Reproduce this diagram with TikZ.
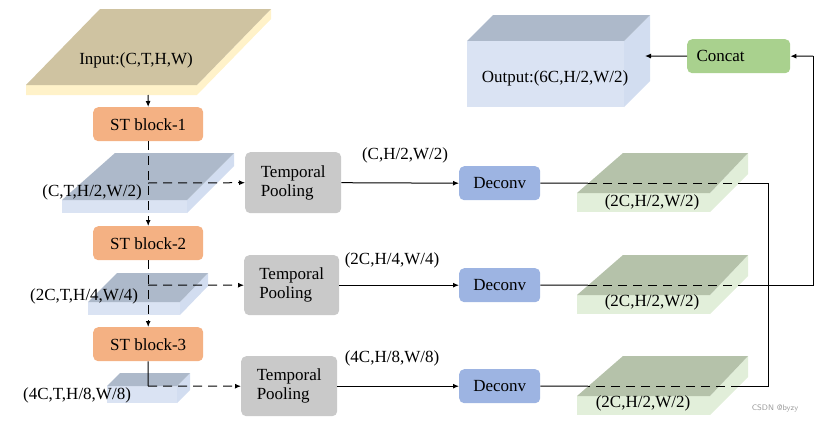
\documentclass[tikz,border=0pt]{standalone}
\usepackage{fontspec}
\setmainfont{Liberation Serif}
\usetikzlibrary{arrows.meta}
\definecolor{stor}{HTML}{F4B183}
\definecolor{tpg}{HTML}{C9C9C9}
\definecolor{dcb}{HTML}{9DB4E2}
\definecolor{ccg}{HTML}{A9D18E}
\definecolor{btop}{HTML}{ADB9CA}
\definecolor{bfront}{HTML}{DAE3F3}
\definecolor{bside}{HTML}{D2DDF0}
\definecolor{gtop}{HTML}{B5C2AA}
\definecolor{gfront}{HTML}{E2EFDA}
\definecolor{itop}{HTML}{CFC3A1}
\definecolor{iside}{HTML}{FFF2C9}
\begin{document}
\begin{tikzpicture}[x=1pt,y=-1pt,
  txt/.style={font=\fontsize{17}{19}\selectfont},
  box/.style={rounded corners=5pt,draw=none,txt,inner sep=0pt,anchor=north west},
  ln/.style={line width=1pt,black},
  arr/.style={ln,-{Latex[length=6pt,width=5pt]}},
  dsh/.style={ln,dash pattern=on 9pt off 6pt}]
\useasboundingbox (0,0) rectangle (819,423);
% input slab
\fill[iside] (26,85)--(197,85)--(271,9)--(271,19)--(197,95)--(26,95)--cycle;
\fill[itop] (100,9)--(271,9)--(197,85)--(26,85)--cycle;
\node[txt] (inp) at (136,60) {Input:(C,T,H,W)};
% ST blocks
\node[box,fill=stor,minimum width=110pt,minimum height=34pt] (st1) at (93,107) {};
\node[txt] at (st1.center) {ST block-1};
\node[box,fill=stor,minimum width=110pt,minimum height=34pt] (st2) at (93,226) {};
\node[txt] at (st2.center) {ST block-2};
\node[box,fill=stor,minimum width=110pt,minimum height=34pt] (st3) at (93,327) {};
\node[txt] at (st3.center) {ST block-3};
% blue slabs
\fill[bfront] (62,200) rectangle (187,213);
\fill[bside] (187,200)--(234,153)--(234,166)--(187,213)--cycle;
\fill[btop] (115,153)--(234,153)--(187,200)--(62,200)--cycle;
\fill[bfront] (88,302) rectangle (180,315);
\fill[bside] (180,302)--(208,273)--(208,286)--(180,315)--cycle;
\fill[btop] (117,273)--(208,273)--(180,302)--(88,302)--cycle;
\fill[bfront] (107,386) rectangle (177,403);
\fill[bside] (177,386)--(190,373)--(190,390)--(177,403)--cycle;
\fill[btop] (120,373)--(190,373)--(177,386)--(107,386)--cycle;
\node[txt] (l1) at (92,192) {(C,T,H/2,W/2)};
\node[txt] (l2) at (84,296) {(2C,T,H/4,W/4)};
\node[txt] (l3) at (77,395) {(4C,T,H/8,W/8)};
% temporal pooling
\node[box,fill=tpg,minimum width=96pt,minimum height=61pt] (tp1) at (245,152) {};
\node[txt,align=left] at (tp1.center) {Temporal\\Pooling};
\node[box,fill=tpg,minimum width=95pt,minimum height=60pt] (tp2) at (244,255) {};
\node[txt,align=left] at (tp2.center) {Temporal\\Pooling};
\node[box,fill=tpg,minimum width=96pt,minimum height=60pt] (tp3) at (241,356) {};
\node[txt,align=left] at (tp3.center) {Temporal\\Pooling};
% deconv
\node[box,fill=dcb,minimum width=81pt,minimum height=34pt] (dc1) at (459,166) {};
\node[txt] at (dc1.center) {Deconv};
\node[box,fill=dcb,minimum width=81pt,minimum height=34pt] (dc2) at (459,268) {};
\node[txt] at (dc2.center) {Deconv};
\node[box,fill=dcb,minimum width=81pt,minimum height=34pt] (dc3) at (459,369) {};
\node[txt] at (dc3.center) {Deconv};
\node[txt] at (405,155) {(C,H/2,W/2)};
\node[txt] at (392,260) {(2C,H/4,W/4)};
\node[txt] at (392,358) {(4C,H/8,W/8)};
% green slabs
\foreach \y/\n in {153/g1,255/g2,356/g3}{
  \fill[gfront] (577,\y+40) rectangle (710,\y+59);
  \fill[gfront!90!black!5!gfront] (710,\y+40)--(748,\y)--(748,\y+21)--(710,\y+59)--cycle;
  \fill[gtop] (623,\y)--(748,\y)--(710,\y+40)--(577,\y+40)--cycle;
}
\node[txt] (gl1) at (652,202) {(2C,H/2,W/2)};
\node[txt] (gl2) at (652,302) {(2C,H/2,W/2)};
\node[txt] (gl3) at (643,403) {(2C,H/2,W/2)};
% output box
\fill[bside] (624,41)--(650,15)--(650,81)--(624,107)--cycle;
\fill[btop] (467,41)--(493,15)--(650,15)--(624,41)--cycle;
\fill[bfront] (467,41) rectangle (624,107);
\node[txt] (out) at (555,78) {Output:(6C,H/2,W/2)};
\coordinate (outR) at (645,56);
% concat
\node[box,fill=ccg,minimum width=103pt,minimum height=34pt] (cc) at (687,39) {};
\node[txt,anchor=west] at (693,56) {Concat};
% connectors
\coordinate (a0) at (148,95);
\draw[arr] (a0) -- (st1.north);
\draw[dsh,-{Latex[length=6pt,width=5pt]}] (st1.south) -- (st2.north);
\draw[dsh,-{Latex[length=6pt,width=5pt]}] (st2.south) -- (st3.north);
\draw[ln] (st3.south) -- (148,386);
\draw[dsh,-{Latex[length=6pt,width=5pt]}] (148,183) -- (tp1.west);
\draw[dsh,-{Latex[length=6pt,width=5pt]}] (148,285) -- (tp2.west);
\draw[dsh,-{Latex[length=6pt,width=5pt]}] (148,386) -- (tp3.west);
\draw[arr] (tp1.east) -- (dc1.west);
\draw[arr] (tp2.east) -- (dc2.west);
\draw[arr] (tp3.east) -- (dc3.west);
\coordinate (j1) at (768,183);
\coordinate (j3) at (768,386);
\coordinate (k2) at (813,285);
\coordinate (k3) at (813,56);
\draw[ln] (dc1.east) -- (588,183);
\draw[dsh] (588,183) -- (740,183);
\draw[ln] (740,183) -- (j1) -- (j3) -- (740,386);
\draw[dsh] (740,386) -- (588,386);
\draw[ln] (588,386) -- (dc3.east);
\draw[ln] (dc2.east) -- (588,285);
\draw[dsh] (588,285) -- (740,285);
\draw[ln] (740,285) -- (k2) -- (k3);
\draw[arr] (k3) -- (cc.east);
\draw[arr] (cc.west) -- (outR);
\node[font=\fontsize{8}{9}\sffamily,text=black!40] at (775,408) {CSDN @byzy};
\end{tikzpicture}
\end{document}
